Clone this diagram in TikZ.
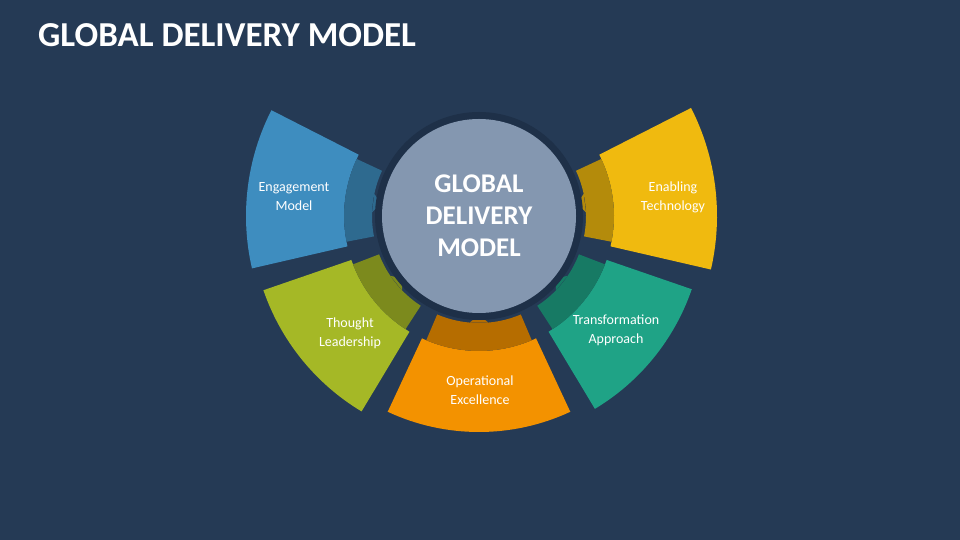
\documentclass[tikz,border=0pt]{standalone}
\usepackage{fontspec}
\setmainfont{Carlito}
\definecolor{bg}{HTML}{253A55}
\definecolor{ring}{HTML}{1E3048}
\definecolor{ctr}{HTML}{8497B0}
\definecolor{cA}{HTML}{3E8DBF}
\definecolor{cB}{HTML}{A5B826}
\definecolor{cC}{HTML}{F39200}
\definecolor{cD}{HTML}{1FA386}
\definecolor{cE}{HTML}{F0BA0F}
\tikzset{lbl/.style={text=white,font=\fontsize{14}{19}\selectfont,align=center}}
\newcommand{\seg}[4]{% start, end, color, outer radius
  \fill[#3] (#1:135pt) arc(#1:#2:135pt) -- (#2:#4) arc(#2:#1:#4) -- cycle;
  \fill[#3!75!black] (#1+2:107pt) arc(#1+2:#2-2:107pt) -- (#2-2:135pt) arc(#2-2:#1+2:135pt) -- cycle;
  \pgfmathsetmacro\mid{(#1+#2)/2}
  \fill[#3!75!black] (\mid-5:107pt) -- (\mid:99pt) -- (\mid+5:107pt) -- cycle;
}
\begin{document}
\begin{tikzpicture}[x=1pt,y=1pt]
\fill[bg] (0,0) rectangle (960,540);
\node[anchor=west,text=white,font=\bfseries\fontsize{35}{40}\selectfont,inner sep=0] (title) at (38,505) {GLOBAL DELIVERY MODEL};
\begin{scope}[shift={(479,324)}]
\seg{153}{193}{cA}{233pt}
\seg{199}{239}{cB}{228pt}
\seg{245}{295}{cC}{216pt}
\seg{301}{341}{cD}{225pt}
\seg{347}{387}{cE}{238pt}
\fill[ring] (0,0) circle (104pt);
\fill[ctr] (0,0) circle (97pt);
\node[text=white,font=\bfseries\fontsize{27}{32}\selectfont,align=center] (c) at (0,0) {GLOBAL\\DELIVERY\\MODEL};
\node[lbl] (a) at (-185,19) {Engagement\\Model};
\node[lbl] (b) at (-129,-117) {Thought\\Leadership};
\node[lbl] (cc) at (1,-174) {Operational\\Excellence};
\node[lbl] (d) at (137,-114) {Transformation\\Approach};
\node[lbl] (e) at (194,19) {Enabling\\Technology};
\end{scope}
\end{tikzpicture}
\end{document}
